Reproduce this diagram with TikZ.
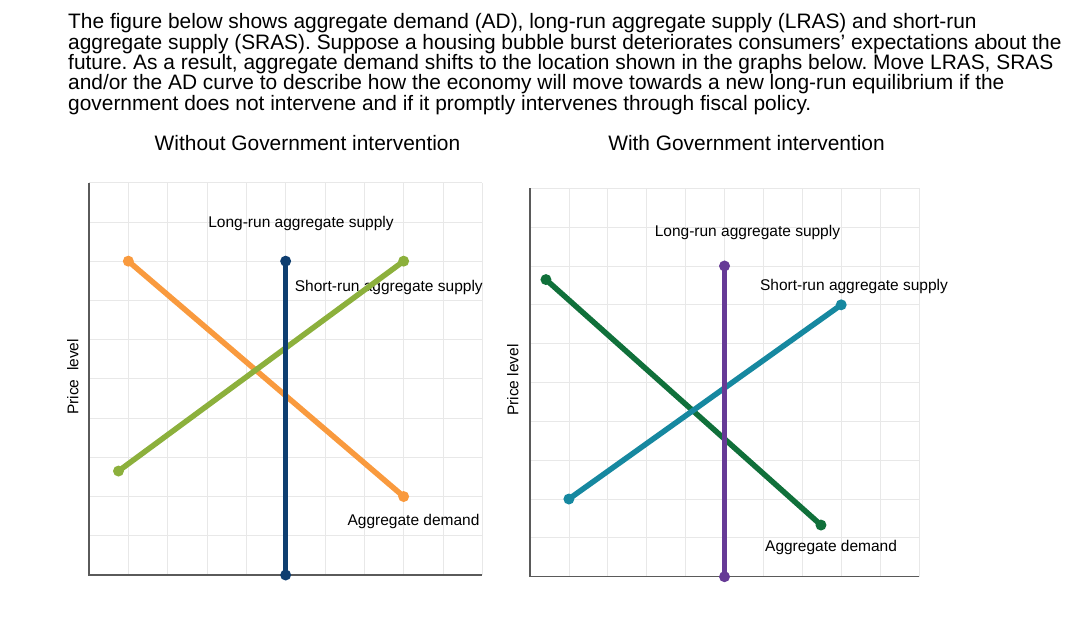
\documentclass[tikz,border=0pt]{standalone}
\usepackage{fontspec}
\setmainfont{Liberation Sans}
\usepackage{tikz}
\usetikzlibrary{positioning}
\frenchspacing
\definecolor{adorange}{RGB}{249,154,62}
\definecolor{srasgreen}{RGB}{140,176,60}
\definecolor{lrasnavy}{RGB}{14,62,112}
\definecolor{adgreen}{RGB}{16,112,58}
\definecolor{lraspurple}{RGB}{102,58,150}
\definecolor{srasteal}{RGB}{22,136,160}
\definecolor{gridgray}{RGB}{232,232,232}
\definecolor{axisgray}{RGB}{90,90,90}

\begin{document}
\begin{tikzpicture}[x=1pt,y=-1pt,
  gridline/.style={draw=gridgray,line width=0.8pt},
  axisline/.style={draw=axisgray,line width=1.3pt},
  curve/.style={line width=5.5pt},
  dot/.style={circle,fill,inner sep=0pt,minimum size=11pt},
  lbl/.style={font=\fontsize{15.5}{18}\selectfont,inner sep=0pt},
  ttl/.style={font=\fontsize{20.9}{24}\selectfont,inner sep=0pt}
]
  \useasboundingbox (0,0) rectangle (1081,631);
  \node[anchor=north west,inner sep=0pt,align=left,
    font=\fontsize{20.9}{20.3}\selectfont] (question) at (68,13.6) {%
    The figure below shows aggregate demand (AD), long-run aggregate supply (LRAS) and short-run\\
    aggregate supply (SRAS). Suppose a housing bubble burst deteriorates consumers' expectations about the\\
    future. As a result, aggregate demand shifts to the location shown in the graphs below. Move LRAS, SRAS\\
    and/or the AD curve to describe how the economy will move towards a new long-run equilibrium if the\\
    government does not intervene and if it promptly intervenes through fiscal policy.};
  \node[ttl] (ttlleft) at (307.5,143) {Without Government intervention};
  \node[ttl] (ttlright) at (746.5,143) {With Government intervention};

  % without intervention
  \begin{scope}[xshift=89pt,yshift=-575pt,x=39.33pt,y=39.23pt]
    \foreach \i in {1,...,10} {
      \draw[gridline] (\i,0) -- (\i,10);
      \draw[gridline] (0,\i) -- (10,\i);
    }
    \coordinate (ltop) at (0,10);
    \coordinate (lorig) at (0,0);
    \coordinate (lright) at (10,0);
    \draw[axisline] (ltop) -- (lorig) -- (lright);
    \node[lbl,rotate=90] (lprice) at (-0.41,5.05) {Price\ \ level};
    \node[lbl] (llraslbl) at (5.39,8.97) {Long-run aggregate supply};
    \node[lbl,anchor=west] (lsraslbl) at (5.23,7.32) {Short-run aggregate supply};
    \node[lbl,anchor=west] (ladlbl) at (6.57,1.36) {Aggregate demand};
    % AD
    \node[dot,adorange] (lad1) at (1,8) {};
    \node[dot,adorange] (lad2) at (8,2) {};
    \draw[curve,adorange] (lad1.center) -- (lad2.center);
    % SRAS
    \node[dot,srasgreen] (lsras1) at (0.75,2.65) {};
    \node[dot,srasgreen] (lsras2) at (8,8) {};
    \draw[curve,srasgreen] (lsras1.center) -- (lsras2.center);
    % LRAS
    \node[dot,lrasnavy] (llras1) at (5,0) {};
    \node[dot,lrasnavy] (llras2) at (5,8) {};
    \draw[curve,lrasnavy] (llras1.center) -- (llras2.center);
  \end{scope}

  % with intervention
  \begin{scope}[xshift=530pt,yshift=-576.7pt,x=38.9pt,y=38.84pt]
    \foreach \i in {1,...,10} {
      \draw[gridline] (\i,0) -- (\i,10);
      \draw[gridline] (0,\i) -- (10,\i);
    }
    \coordinate (rtop) at (0,10);
    \coordinate (rorig) at (0,0);
    \coordinate (rright) at (10,0);
    \draw[axisline] (rtop) -- (rorig) -- (rright);
    \node[lbl,rotate=90] (rprice) at (-0.44,5.06) {Price level};
    \node[lbl] (rlraslbl) at (5.59,8.85) {Long-run aggregate supply};
    \node[lbl,anchor=west] (rsraslbl) at (5.91,7.48) {Short-run aggregate supply};
    \node[lbl,anchor=west] (radlbl) at (6.04,0.75) {Aggregate demand};
    % AD
    \node[dot,adgreen] (rad1) at (0.41,7.65) {};
    \node[dot,adgreen] (rad2) at (7.48,1.33) {};
    \draw[curve,adgreen] (rad1.center) -- (rad2.center);
    % SRAS
    \node[dot,srasteal] (rsras1) at (1,2) {};
    \node[dot,srasteal] (rsras2) at (8,7) {};
    \draw[curve,srasteal] (rsras1.center) -- (rsras2.center);
    % LRAS
    \node[dot,lraspurple] (rlras1) at (5,0) {};
    \node[dot,lraspurple] (rlras2) at (5,8) {};
    \draw[curve,lraspurple] (rlras1.center) -- (rlras2.center);
  \end{scope}
\end{tikzpicture}
\end{document}
